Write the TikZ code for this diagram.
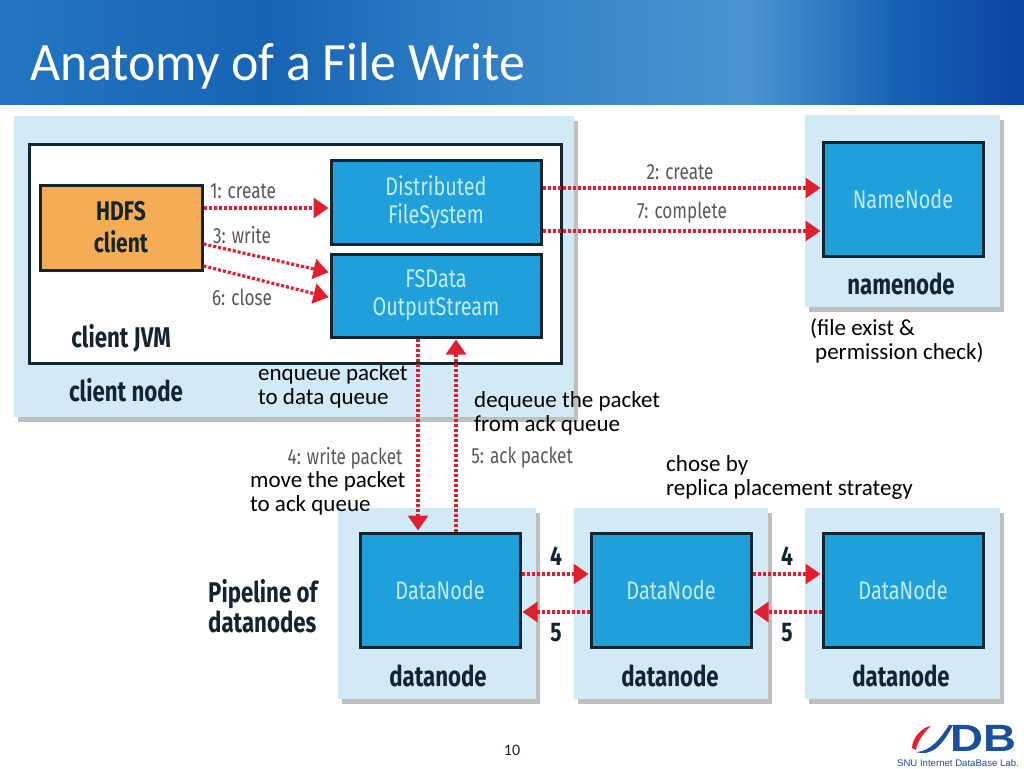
\documentclass[tikz,border=0pt]{standalone}
\usepackage{fontspec}
\setmainfont{Carlito}
\newfontfamily\titlefont[FakeStretch=0.96]{Carlito}
\newfontfamily\figfont[FakeStretch=0.78]{Fira Sans}
\newfontfamily\logofont[FakeStretch=1.2]{Liberation Sans}
\newfontfamily\logosmall{Liberation Sans}
\usetikzlibrary{arrows.meta,shadows}
\definecolor{heada}{HTML}{2276C2}
\definecolor{headb}{HTML}{1763B4}
\definecolor{headc}{HTML}{2C7CC4}
\definecolor{headd}{HTML}{4B94CF}
\definecolor{heade}{HTML}{1660B4}
\definecolor{headf}{HTML}{0A44A0}
\definecolor{panelblue}{HTML}{D2EAF5}
\definecolor{boxblue}{HTML}{1FA0DB}
\definecolor{boxorange}{HTML}{F4AC55}
\definecolor{boxline}{HTML}{14252F}
\definecolor{flowred}{HTML}{E0202E}
\definecolor{flowtext}{HTML}{58585A}
\definecolor{innertext}{HTML}{C4ECF6}
\definecolor{logoblue}{HTML}{1B4F9E}
\tikzset{
    panelbox/.style={fill=panelblue, anchor=north west, inner sep=0, drop shadow={shadow xshift=4pt, shadow yshift=-5pt, fill=black!50}},
    bluebox/.style={draw=boxline, line width=3pt, fill=boxblue, text=innertext, align=center, inner sep=0, font=\figfont\fontsize{25.5}{28}\selectfont},
    flow/.style={flowred, line width=3.2pt, dash pattern=on 3pt off 2pt, -{Triangle[length=15pt, width=20pt]}, shorten >=1pt},
    flowlabel/.style={text=flowtext, inner sep=0, font=\figfont\fontsize{22}{24}\selectfont},
    boldlabel/.style={text=boxline, inner sep=0, align=left, font=\figfont\bfseries\fontsize{28.5}{30}\selectfont},
    numlabel/.style={text=boxline, inner sep=0, font=\figfont\bfseries\fontsize{27}{30}\selectfont},
    note/.style={anchor=west, inner sep=0, align=left, text=black, font=\fontsize{23}{24}\selectfont}
}
\begin{document}
\begin{tikzpicture}[x=1pt, y=-1pt]
    \useasboundingbox (0, 0) rectangle (1024, 768);
    \fill[left color=heada, right color=headb] (0, 0) rectangle (270, 104);
    \fill[left color=headb, right color=headc] (270, 0) rectangle (450, 104);
    \fill[left color=headc, right color=headd] (450, 0) rectangle (750, 104);
    \fill[left color=headd, right color=heade] (750, 0) rectangle (900, 104);
    \fill[left color=heade, right color=headf] (900, 0) rectangle (1024, 104);
    \node[anchor=base west, inner sep=0, text=white, font=\titlefont\fontsize{54}{56}\selectfont] (title) at (30, 80) {Anatomy of a File Write};

    \node[panelbox, minimum width=560pt, minimum height=301pt] (clientnode) at (14, 116) {};
    \node[panelbox, minimum width=195pt, minimum height=192pt] (namepanel) at (805, 115) {};
    \node[panelbox, minimum width=198pt, minimum height=191pt] (datapanela) at (338, 508) {};
    \node[panelbox, minimum width=194pt, minimum height=191pt] (datapanelb) at (574, 508) {};
    \node[panelbox, minimum width=195pt, minimum height=191pt] (datapanelc) at (805, 508) {};

    \node[draw=boxline, line width=3pt, fill=white, anchor=north west, inner sep=0, minimum width=532pt, minimum height=219pt] (jvm) at (28, 143) {};
    \node[draw=boxline, line width=3pt, fill=boxorange, text=boxline, align=center, inner sep=0, minimum width=162pt, minimum height=85pt, font=\figfont\bfseries\fontsize{27}{32}\selectfont] (hdfs) at (121, 227.5) {HDFS\\client};
    \node[bluebox, minimum width=210pt, minimum height=84pt] (dfs) at (436, 202) {Distributed\\FileSystem};
    \node[bluebox, minimum width=210pt, minimum height=83pt] (fsdata) at (436, 295.5) {FSData\\OutputStream};
    \node[bluebox, minimum width=160pt, minimum height=114pt] (namenode) at (903, 199) {NameNode};
    \node[bluebox, minimum width=160pt, minimum height=114pt] (dataa) at (440, 590) {DataNode};
    \node[bluebox, minimum width=160pt, minimum height=114pt] (datab) at (671, 590) {DataNode};
    \node[bluebox, minimum width=160pt, minimum height=114pt] (datac) at (903, 590) {DataNode};

    \draw[flow] ([yshift=19.5pt]hdfs.east) -- ([yshift=-6pt]dfs.west);
    \draw[flow] ([yshift=-16.5pt]hdfs.east) -- ([yshift=23pt]fsdata.west);
    \draw[flow] ([yshift=-38.5pt]hdfs.east) -- ([yshift=-2pt]fsdata.west);
    \draw[flow] ([yshift=14pt]dfs.east) -- ([yshift=11pt]namenode.west);
    \draw[flow] ([yshift=-29pt]dfs.east) -- ([yshift=-32pt]namenode.west);
    \draw[flow] ([xshift=-18pt]fsdata.south) -- ([xshift=-22pt]dataa.north);
    \draw[flow] ([xshift=16pt]dataa.north) -- ([xshift=20pt]fsdata.south);
    \draw[flow] ([yshift=16pt]dataa.east) -- ([yshift=16pt]datab.west);
    \draw[flow] ([yshift=-22pt]datab.west) -- ([yshift=-22pt]dataa.east);
    \draw[flow] ([yshift=16pt]datab.east) -- ([yshift=16pt]datac.west);
    \draw[flow] ([yshift=-22pt]datac.west) -- ([yshift=-22pt]datab.east);

    \node[flowlabel] (lcreate) at (243, 191) {1: create};
    \node[flowlabel] (lwrite) at (242, 235) {3: write};
    \node[flowlabel] (lclose) at (242, 297) {6: close};
    \node[flowlabel] (lcreateb) at (680, 172) {2: create};
    \node[flowlabel] (lcomplete) at (682, 213) {7: complete};
    \node[flowlabel] (lpacket) at (345, 458) {4: write packet};
    \node[flowlabel] (lack) at (522, 458) {5: ack packet};

    \node[boldlabel] (ljvm) at (121, 338) {client JVM};
    \node[boldlabel] (lclient) at (126, 390) {client node};
    \node[boldlabel] (lname) at (901, 284) {namenode};
    \node[boldlabel] (ldataa) at (438, 676) {datanode};
    \node[boldlabel] (ldatab) at (670, 676) {datanode};
    \node[boldlabel] (ldatac) at (901, 676) {datanode};
    \node[boldlabel, anchor=west] (lpipe) at (208, 606) {Pipeline of\\datanodes};
    \node[numlabel] (lfoura) at (556, 556) {4};
    \node[numlabel] (lfivea) at (556, 633) {5};
    \node[numlabel] (lfourb) at (787, 556) {4};
    \node[numlabel] (lfiveb) at (787, 633) {5};

    \node[note] (nenqueue) at (258, 386) {enqueue packet\\to data queue};
    \node[note] (ndequeue) at (474, 413) {dequeue the packet\\from ack queue};
    \node[note] (nmove) at (250, 493) {move the packet\\to ack queue};
    \node[note] (nchose) at (666, 477) {chose by\\replica placement strategy};
    \node[note] (ncheck) at (810, 341) {(file exist \&\\\hspace*{5pt}permission check)};

    \node[inner sep=0, text=boxline, font=\fontsize{16}{18}\selectfont] (pagenum) at (512, 750) {10};
    \fill[flowred] (912, 748) .. controls (912, 738) and (922, 727) .. (931, 726) .. controls (924, 732) and (917, 742) .. (916, 750) -- cycle;
    \fill[logoblue] (916, 752) .. controls (930, 752) and (941, 738) .. (949, 725) -- (953, 725) .. controls (944, 742) and (934, 757) .. (916, 752) -- cycle;
    \node[inner sep=0, anchor=west, text=logoblue, font=\logofont\bfseries\fontsize{38}{38}\selectfont] (logodb) at (950, 738) {DB};
    \node[inner sep=0, anchor=east, text=logoblue, font=\logosmall\fontsize{9.6}{10}\selectfont] (logotext) at (1019, 763) {SNU Internet DataBase Lab.};
\end{tikzpicture}
\end{document}
